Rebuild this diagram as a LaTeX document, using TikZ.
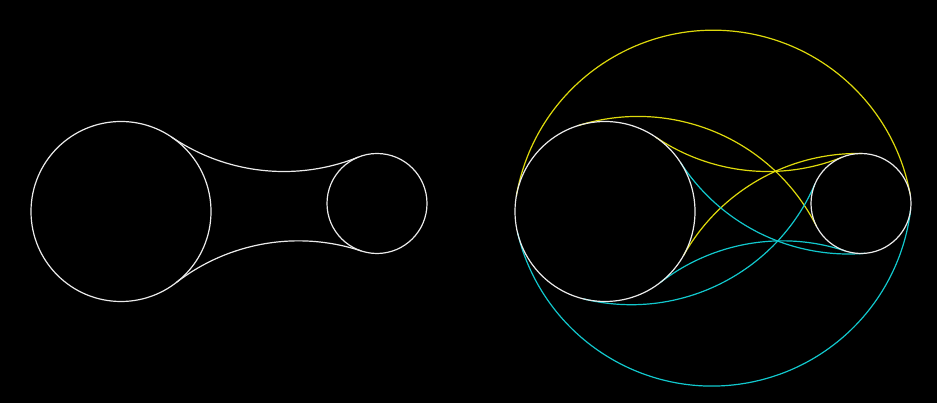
\documentclass[tikz,border=0pt]{standalone}
\definecolor{ringwhite}{RGB}{235,235,235}
\definecolor{arcyellow}{RGB}{222,218,12}
\definecolor{arccyan}{RGB}{18,200,205}
\tikzset{
  ring/.style={draw=ringwhite,line width=1.2pt},
  touch/.style={line width=1.2pt}
}
\begin{document}
\begin{tikzpicture}[x=10pt,y=10pt]
            \def\bigR{9}
            \def\smallR{5}
            \def\touchR{20}
            \def\pairShift{48.4}

            \fill[black] (0,0) rectangle (93.7,40.3);
            \useasboundingbox (0,0) rectangle (93.7,40.3);

            % circles of radius \touchR that touch both rings
            \foreach \dx\sa\sb\side\arcColour in {0/1/1/1/ringwhite,0/1/1/-1/ringwhite,
                        48.4/1/1/1/arcyellow,48.4/1/1/-1/arccyan,
                        48.4/-1/-1/-1/arcyellow,48.4/-1/-1/1/arccyan,
                        48.4/1/-1/-1/arcyellow,48.4/1/-1/1/arccyan,
                        48.4/-1/1/-1/arcyellow,48.4/-1/1/1/arccyan} {
                        \pgfmathsetmacro\ax{12.1+\dx}
                        \pgfmathsetmacro\ay{19.15}
                        \pgfmathsetmacro\bx{37.7+\dx}
                        \pgfmathsetmacro\by{19.95}
                        \pgfmathsetmacro\ux{\bx-\ax}
                        \pgfmathsetmacro\uy{\by-\ay}
                        \pgfmathsetmacro\dist{veclen(\ux,\uy)}
                        \pgfmathsetmacro\pa{\touchR+(\sa)*\bigR}
                        \pgfmathsetmacro\pb{\touchR+(\sb)*\smallR}
                        \pgfmathsetmacro\along{(\pa*\pa-\pb*\pb+\dist*\dist)/(2*\dist)}
                        \pgfmathsetmacro\off{(\side)*sqrt(\pa*\pa-\along*\along)}
                        \pgfmathsetmacro\cx{\ax+(\along*\ux-\off*\uy)/\dist}
                        \pgfmathsetmacro\cy{\ay+(\along*\uy+\off*\ux)/\dist}
                        \pgfmathsetmacro\angA{atan2(\ay-\cy,\ax-\cx)}
                        \pgfmathsetmacro\angB{atan2(\by-\cy,\bx-\cx)}
                        \pgfmathsetmacro\sweep{mod(\angB-\angA+540,360)-180}
                        \draw[touch,draw=\arcColour] (\cx,\cy) ++(\angA:\touchR) arc[start angle=\angA,delta angle=\sweep,radius=\touchR];
                  }

            \foreach \dx in {0,\pairShift} {
                        \draw[ring] (12.1+\dx,19.15) circle (\bigR);
                        \draw[ring] (37.7+\dx,19.95) circle (\smallR);
                  }
      \end{tikzpicture}
\end{document}
